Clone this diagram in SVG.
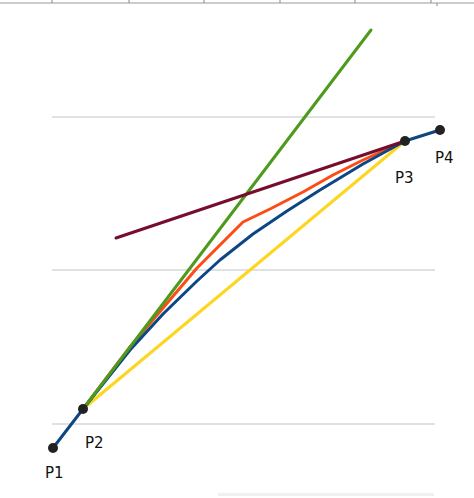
<svg xmlns="http://www.w3.org/2000/svg" width="474" height="498" viewBox="0 0 474 498">
<style>
.grid{stroke:#c4c4c4;stroke-width:1.2;fill:none}
.axis{stroke:#9a9a9a;stroke-width:1.2;fill:none}
.c{fill:none;stroke-width:3;stroke-linejoin:round;stroke-linecap:round}
.pt{fill:#222}
.lbl{font-family:"DejaVu Sans",sans-serif;font-size:15px;fill:#111}
</style>
<rect width="474" height="498" fill="#fff"/>
<g id="axes">
<line class="axis" x1="0" y1="3" x2="474" y2="3"/>
<path class="axis" d="M52,0V3M129,0V3M204,0V3M280,0V3M355,0V3M431,0V3M437,3V6"/>
<line class="grid" x1="52" y1="117" x2="435" y2="117"/>
<line class="grid" x1="52" y1="270" x2="435" y2="270"/>
<line class="grid" x1="52" y1="424" x2="435" y2="424"/>
<rect x="218" y="493" width="216" height="3" fill="#f0f0f0"/>
</g>
<g id="connectors">
<line class="c" x1="83" y1="409" x2="405" y2="141" stroke="#fcd620"/>
<path class="c" stroke="#fc4c14" d="M83,409 L130,347 L163,308 L197,268 L220,245 L243,222 L270,209 L303,192 L333,175 L363,160 L405,141"/>
<path class="c" stroke="#0c4684" d="M53,448 L83,409 L130,350 L163,314 L197,281 L220,260 L253,234 L287,211 L320,190 L363,164 L405,141 L440,130"/>
<line class="c" x1="83" y1="409" x2="371" y2="30" stroke="#4e9a1c"/>
<line class="c" x1="116" y1="238" x2="405" y2="141" stroke="#780c2c"/>
</g>
<g id="P1"><circle class="pt" cx="53" cy="448" r="5"/><text class="lbl" x="45" y="478">P1</text></g>
<g id="P2"><circle class="pt" cx="83" cy="409" r="5"/><text class="lbl" x="85" y="448">P2</text></g>
<g id="P3"><circle class="pt" cx="405" cy="141" r="5"/><text class="lbl" x="395" y="183">P3</text></g>
<g id="P4"><circle class="pt" cx="440" cy="130" r="5"/><text class="lbl" x="435" y="163">P4</text></g>
</svg>
